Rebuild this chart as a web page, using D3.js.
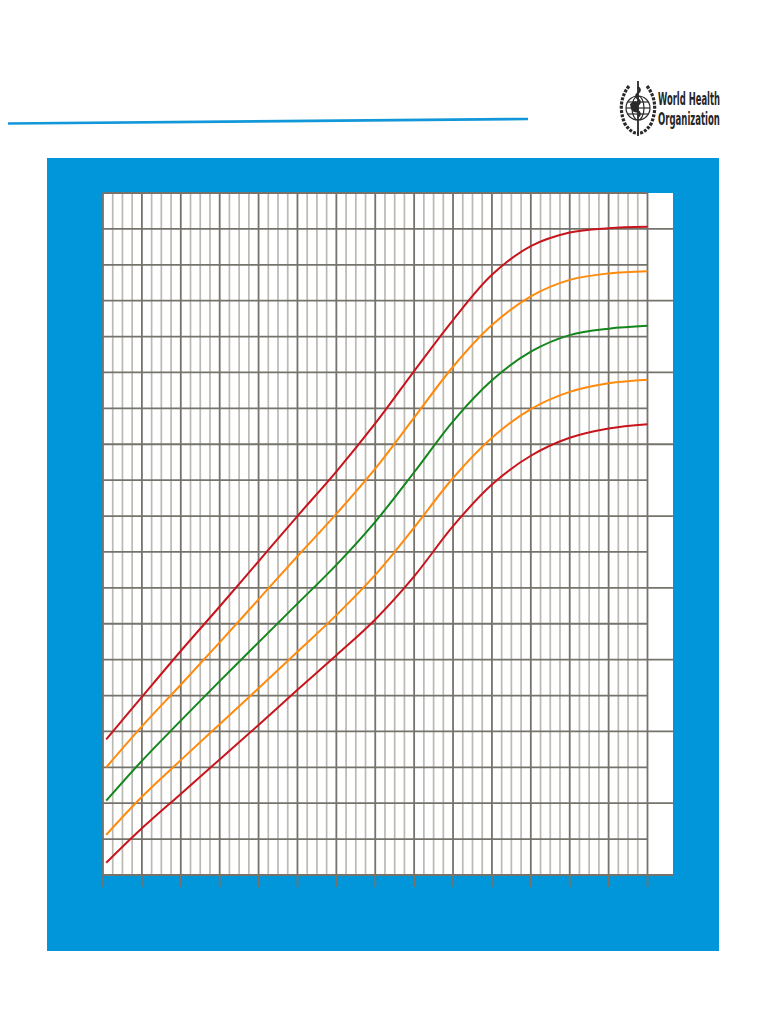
<!DOCTYPE html>
<html>
<head>
<meta charset="utf-8">
<title>Height-for-age BOYS</title>
<script src="https://d3js.org/d3.v7.min.js"></script>
<style>
  body { margin: 0; background: #fff; }
  svg { display: block; }
  .logo text { font-family: "Liberation Sans Narrow", "DejaVu Sans Condensed", sans-serif; font-weight: bold; fill: #262626; }
</style>
</head>
<body>
<div id="chart"></div>
<script>
// age in years (first point = 61 months)
const ages = [61 / 12, 6, 7, 8, 9, 10, 11, 12, 13, 14, 15, 16, 17, 18, 19];
// heights (cm)
const sdPos2 = [118.9, 124.8, 131.2, 137.4, 143.7, 150.0, 156.2, 162.9, 170.2, 177.3, 183.6, 187.6, 189.5, 190.1, 190.3];
const sdPos1 = [115.0, 120.7, 126.5, 132.4, 138.4, 144.4, 150.3, 156.6, 163.7, 170.8, 176.6, 180.6, 182.9, 183.8, 184.1];
const median = [110.35, 115.9, 121.5, 127.0, 132.4, 137.8, 143.2, 149.2, 156.1, 163.2, 168.9, 172.9, 175.2, 176.1, 176.5];
const sdNeg1 = [105.6, 110.9, 116.0, 121.0, 126.0, 131.1, 136.2, 141.8, 148.4, 155.3, 160.9, 164.9, 167.3, 168.5, 169.0];
const sdNeg2 = [101.7, 106.5, 111.3, 116.1, 120.9, 125.8, 130.6, 135.6, 141.6, 148.6, 154.4, 158.4, 160.9, 162.2, 162.8];

const seriesNames = ["+2 SD", "+1 SD", "Median", "-1 SD", "-2 SD"];
const seriesValues = [sdPos2, sdPos1, median, sdNeg1, sdNeg2];
const seriesColors = ["#c8141c", "#ff8a0c", "#14861c", "#ff8a0c", "#c8141c"];

const yearTicks = d3.range(5, 20);            // 5 .. 19 years
const quarterTicks = d3.range(5, 19.01, 0.25); // every 3 months
const heightTicks = d3.range(100, 196, 5);     // every 5 cm

const W = 768, H = 1024;
const svg = d3.select("#chart").append("svg").attr("width", W).attr("height", H);

// header rule
svg.append("line")
  .attr("x1", 8).attr("y1", 123.5).attr("x2", 528).attr("y2", 119)
  .attr("stroke", "#1297d8").attr("stroke-width", 2.6);

// WHO logo (rough emblem + name)
const logo = svg.append("g").attr("class", "logo");
const ec = [638, 108];
const emb = logo.append("g").attr("fill", "none").attr("stroke", "#2a2a2a").attr("stroke-width", 1.2);
emb.append("circle").attr("cx", ec[0]).attr("cy", ec[1]).attr("r", 12);
emb.append("ellipse").attr("cx", ec[0]).attr("cy", ec[1]).attr("rx", 6).attr("ry", 12);
emb.append("line").attr("x1", ec[0] - 12).attr("x2", ec[0] + 12).attr("y1", ec[1]).attr("y2", ec[1]);
emb.append("line").attr("x1", ec[0] - 10.4).attr("x2", ec[0] + 10.4).attr("y1", ec[1] - 6).attr("y2", ec[1] - 6);
emb.append("line").attr("x1", ec[0] - 10.4).attr("x2", ec[0] + 10.4).attr("y1", ec[1] + 6).attr("y2", ec[1] + 6);
emb.append("path").attr("fill", "#2a2a2a").attr("stroke", "none")
  .attr("d", `M${ec[0] - 8},${ec[1] - 4} q4,-4 8,-2 q-2,6 2,10 q-6,2 -9,-3 z`);
[-1, 1].forEach(s => {
  emb.append("path").attr("stroke-width", 3.2).attr("stroke-dasharray", "3 1.3")
    .attr("d", `M${ec[0] + s * 9},${ec[1] - 22} Q${ec[0] + s * 22},${ec[1] - 5} ${ec[0] + s * 13},${ec[1] + 16} Q${ec[0] + s * 6},${ec[1] + 26} ${ec[0]},${ec[1] + 25}`);
});
emb.append("line").attr("stroke-width", 1.8)
  .attr("x1", ec[0]).attr("x2", ec[0]).attr("y1", ec[1] - 27).attr("y2", ec[1] + 28);
emb.append("path").attr("stroke-width", 1.8)
  .attr("d", `M${ec[0]},${ec[1] - 21} q4,3 0,6 q-4,3 0,6 q4,3 0,6 q-4,3 0,6 q4,3 0,6`);

const names = ["World Health", "Organization"];
logo.selectAll("text").data(names).join("text")
  .attr("font-size", 18)
  .text(d => d)
  .attr("transform", function (d, i) {
    const w = this.getComputedTextLength();
    return `translate(658,${105 + i * 19.5}) scale(${62 / w},1)`;
  });

// blue frame and white plot panel
svg.append("rect").attr("x", 47).attr("y", 158).attr("width", 672).attr("height", 793).attr("fill", "#0096d9");

const x = d3.scaleLinear().domain([5, 19]).range([103, 647.5]);
const y = d3.scaleLinear().domain([100, 195]).range([875, 193]);

svg.append("rect")
  .attr("x", x(5)).attr("y", y(195))
  .attr("width", 673 - x(5)).attr("height", y(100) - y(195))
  .attr("fill", "#fff");

const grid = svg.append("g");
// minor verticals (3 months)
grid.selectAll("line.minor").data(quarterTicks.filter(d => Math.abs(d - Math.round(d)) > 0.01))
  .join("line").attr("class", "minor")
  .attr("x1", d => x(d)).attr("x2", d => x(d))
  .attr("y1", y(195)).attr("y2", y(100))
  .attr("stroke", "#bab9b2").attr("stroke-width", 1.7);
// horizontals every 5 cm; the 10 cm lines run into the right margin
grid.selectAll("line.h").data(heightTicks)
  .join("line").attr("class", "h")
  .attr("x1", x(5)).attr("x2", d => d % 10 === 0 ? 673 : x(19))
  .attr("y1", d => y(d)).attr("y2", d => y(d))
  .attr("stroke", "#75736b").attr("stroke-width", 1.8);
// year verticals with ticks below the panel
grid.selectAll("line.major").data(yearTicks)
  .join("line").attr("class", "major")
  .attr("x1", d => x(d)).attr("x2", d => x(d))
  .attr("y1", y(195)).attr("y2", y(100) + 12)
  .attr("stroke", "#75736b").attr("stroke-width", 1.8);

// z-score curves
const line = d3.line()
  .x((d, i) => x(ages[i]))
  .y(d => y(d))
  .curve(d3.curveCatmullRom.alpha(0.5));

svg.append("g").selectAll("path")
  .data(seriesValues)
  .join("path")
  .attr("d", d => line(d))
  .attr("fill", "none")
  .attr("stroke", (d, i) => seriesColors[i])
  .attr("stroke-width", 2)
  .append("title").text((d, i) => seriesNames[i]);
</script>
</body>
</html>
